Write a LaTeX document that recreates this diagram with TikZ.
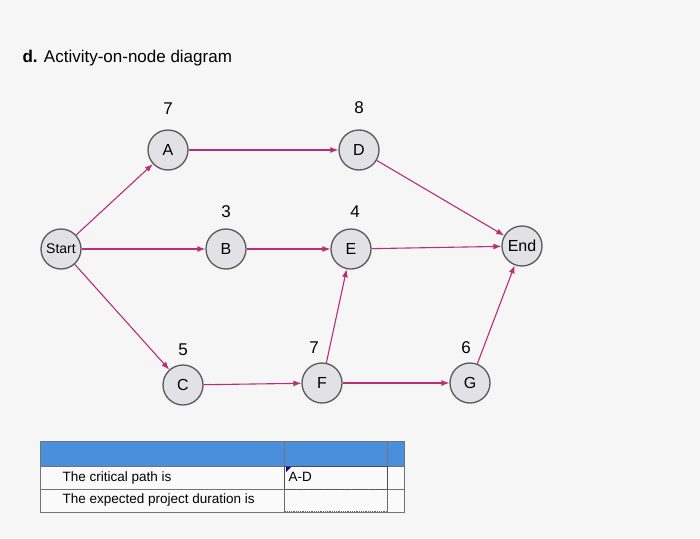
\documentclass[tikz,border=0pt]{standalone}
\usepackage{fontspec}
\setmainfont{Liberation Sans}
\usetikzlibrary{arrows.meta}
\definecolor{edge}{HTML}{B8306E}
\definecolor{nfill}{HTML}{E2E1E6}
\definecolor{hdr}{HTML}{4A8FDB}
\begin{document}
\begin{tikzpicture}[x=1pt,y=-1pt,
  act/.style={circle,draw=black!65,line width=1.3pt,fill=nfill,minimum size=40pt,inner sep=0pt,font=\fontsize{16}{18}\selectfont},
  dur/.style={font=\fontsize{17}{19}\selectfont},
  arr/.style={draw=edge,line width=1.1pt,-{Latex[length=8pt,width=6pt]}},
  cell/.style={draw=black!55,line width=0.6pt}]
\fill[white!93!gray] (0,0) rectangle (700,538);
\useasboundingbox (0,0) rectangle (700,538);
\node[anchor=west,font=\fontsize{17}{20}\selectfont] (title) at (19,58) {\textbf{d.} Activity-on-node diagram};
\node[act] (S) at (61,249) {\fontsize{14}{16}\selectfont Start};
\node[act] (A) at (168,150) {A};
\node[act] (B) at (226,249) {B};
\node[act] (C) at (183,385) {C};
\node[act] (D) at (359,150) {D};
\node[act] (E) at (351,249) {E};
\node[act] (F) at (322,383) {F};
\node[act] (G) at (470,383) {G};
\node[act] (End) at (522,246) {End};
\node[dur] (dA) at (168,109) {7};
\node[dur] (dB) at (226,212) {3};
\node[dur] (dC) at (183,350) {5};
\node[dur] (dD) at (359,108) {8};
\node[dur] (dE) at (355,212) {4};
\node[dur] (dF) at (314,348) {7};
\node[dur] (dG) at (466,348) {6};
\draw[arr] (S) -- (A);
\draw[arr] (S) -- (B);
\draw[arr] (S) -- (C);
\draw[arr] (A) -- (D);
\draw[arr] (D) -- (End);
\draw[arr] (B) -- (E);
\draw[arr] (E) -- (End);
\draw[arr] (C) -- (F);
\draw[arr] (F) -- (E);
\draw[arr] (F) -- (G);
\draw[arr] (G) -- (End);
% table
\fill[hdr] (40,441) rectangle (404,466);
\fill[white!96!gray] (40,466) rectangle (404,512);
\draw[cell] (40,441) rectangle (404,512);
\draw[cell] (40,466) -- (404,466);
\draw[cell] (40,489) -- (404,489);
\draw[cell] (284,441) -- (284,512);
\draw[cell] (387,441) -- (387,512);
\draw[black!70,line width=1pt] (284,466) rectangle (387,489);
\draw[black!60,densely dotted,line width=0.8pt] (284,489) rectangle (387,511);
\node[anchor=west,font=\fontsize{13.5}{15}\selectfont] (r1) at (59,478) {The critical path is};
\node[anchor=west,font=\fontsize{13.5}{15}\selectfont] (r2) at (59,500) {The expected project duration is};
\node[anchor=west,font=\fontsize{13.5}{15}\selectfont] (v1) at (285,477) {A-D};
\fill[blue!70!black] (286,467) -- (291,467) -- (286,472) -- cycle;
\end{tikzpicture}
\end{document}
